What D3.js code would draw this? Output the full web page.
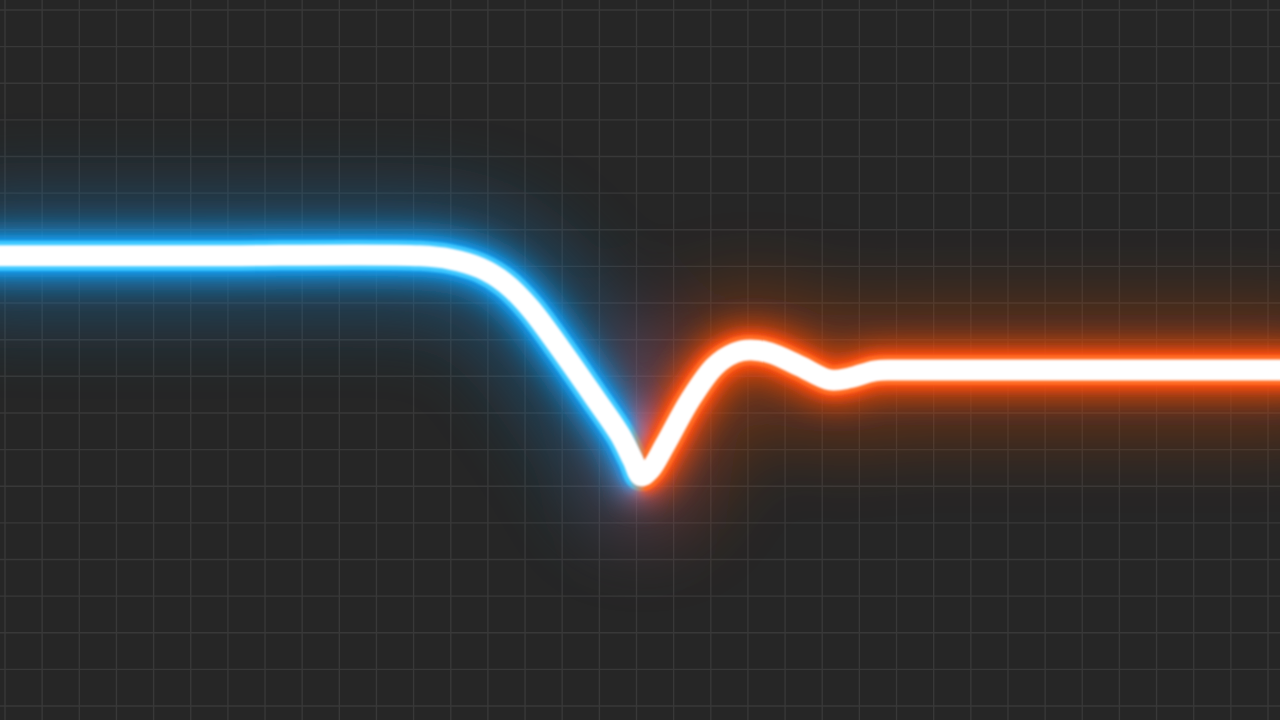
<!DOCTYPE html>
<meta charset="utf-8">
<script src="https://d3js.org/d3.v7.min.js"></script>
<style>
  body { margin: 0; background: #262626; overflow: hidden; }
</style>
<body>
<div id="viz"></div>
<script>
// grid cells (columns / rows)
const gridCols = d3.range(0, 35);
const gridRows = d3.range(0, 20);

// signal trace, in grid units (x: column, y: row counted from bottom)
const traceX = [-0.7, -0.13, 5.25, 11.17, 11.98, 12.79, 13.46, 14.13, 14.94, 15.88, 16.56, 16.9, 17.12,
                17.36, 17.77, 18.44, 19.11, 19.65, 20.05, 20.59, 21.4, 22.21, 22.75, 23.42, 24.09, 29.48, 34.9];
const traceY = [12.29, 12.29, 12.29, 12.29, 12.2, 11.96, 11.55, 10.87, 9.77, 8.41, 7.4, 6.72, 6.28,
                6.44, 7.13, 8.35, 9.28, 9.64, 9.72, 9.64, 9.28, 8.9, 8.96, 9.15, 9.17, 9.17, 9.17];

// where the trace turns from blue to orange (grid column)
const splitAt = [16.8, 17.25];

const width = 1280, height = 720;

const svg = d3.select("#viz").append("svg")
    .attr("width", width)
    .attr("height", height);

const x = d3.scaleLinear().domain([0, 34]).range([5, 1268]);
const y = d3.scaleLinear().domain([0, 19]).range([706, 10]);

svg.append("rect")
    .attr("width", width).attr("height", height)
    .attr("fill", "#262626");

// grid
const grid = svg.append("g").attr("stroke", "#383838").attr("stroke-width", 1.4);
grid.selectAll(".v").data(gridCols).join("line")
    .attr("class", "v")
    .attr("x1", d => x(d)).attr("x2", d => x(d))
    .attr("y1", 0).attr("y2", height);
grid.selectAll(".h").data(gridRows).join("line")
    .attr("class", "h")
    .attr("y1", d => y(d)).attr("y2", d => y(d))
    .attr("x1", 0).attr("x2", width);

const defs = svg.append("defs");

function gradient(id, c1, c2) {
  const g = defs.append("linearGradient")
      .attr("id", id)
      .attr("gradientUnits", "userSpaceOnUse")
      .attr("x1", 0).attr("x2", width).attr("y1", 0).attr("y2", 0);
  g.append("stop").attr("offset", x(splitAt[0]) / width).attr("stop-color", c1);
  g.append("stop").attr("offset", x(splitAt[1]) / width).attr("stop-color", c2);
}
gradient("haze", "#1a6fa8", "#b8420f");
gradient("glow", "#139cf0", "#ff4e0e");
gradient("edge", "#3cc8ff", "#ff6a22");

function blur(id, s) {
  defs.append("filter")
      .attr("id", id)
      .attr("filterUnits", "userSpaceOnUse")
      .attr("x", -200).attr("y", -200).attr("width", width + 400).attr("height", height + 400)
    .append("feGaussianBlur").attr("stdDeviation", s);
}
blur("b40", 40);
blur("b14", 14);
blur("b5", 5);
blur("b1", 1.2);

const pts = traceX.map((d, i) => [d, traceY[i]]);
const line = d3.line()
    .x(d => x(d[0]))
    .y(d => y(d[1]))
    .curve(d3.curveCatmullRom.alpha(0.5));
const pathD = line(pts);

const layers = [
  {stroke: "url(#haze)", w: 110, f: "b40", o: 0.55},
  {stroke: "url(#glow)", w: 50, f: "b14", o: 0.85},
  {stroke: "url(#glow)", w: 36, f: "b5", o: 1},
  {stroke: "url(#edge)", w: 30, f: "b1", o: 1},
  {stroke: "#ffffff", w: 21, f: "b1", o: 1}
];

svg.append("g").selectAll("path").data(layers).join("path")
    .attr("d", pathD)
    .attr("fill", "none")
    .attr("stroke", d => d.stroke)
    .attr("stroke-width", d => d.w)
    .attr("stroke-linecap", "round")
    .attr("stroke-linejoin", "round")
    .attr("opacity", d => d.o)
    .attr("filter", d => `url(#${d.f})`);
</script>
</body>
